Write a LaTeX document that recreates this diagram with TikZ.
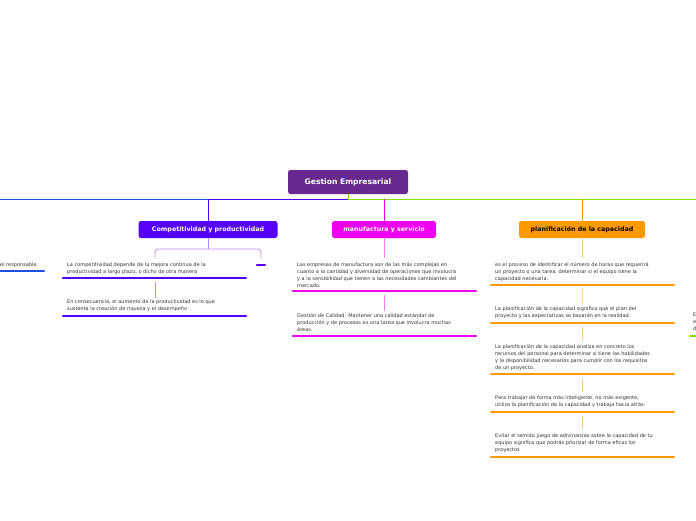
\documentclass[tikz,border=0pt]{standalone}
\usepackage{fontspec}
\setmainfont{DejaVu Sans}
\begin{document}
\begin{tikzpicture}[x=1pt,y=-1pt,
  txt/.style={anchor=north west,align=left,inner sep=0,font=\fontsize{5}{7}\selectfont,text=black!80},
  topic/.style={rounded corners=2.5pt,minimum height=17pt,font=\fontsize{6.3}{7}\selectfont\bfseries,text=white},
  ul/.style={line width=2.6pt,line cap=round},
  conn/.style={line width=0.8pt}]
\useasboundingbox (0,0) rectangle (696,520);
\definecolor{root}{HTML}{67298F}
\definecolor{vio}{HTML}{5500FF}
\definecolor{mag}{HTML}{EE00EE}
\definecolor{ora}{HTML}{FF9900}
\definecolor{grn}{HTML}{88E000}
\definecolor{blu}{HTML}{1E50E6}
% main line
\coordinate (L) at (0,199); \coordinate (R) at (696,199);
\coordinate (J) at (348,199);
\draw[conn,blu] (L) -- (208,199);
\draw[conn,vio] (208,199) -- (J);
\draw[conn,grn] (J) -- (R);
\node[topic,fill=root,minimum width=120pt,minimum height=24pt,font=\fontsize{7.6}{8}\selectfont\bfseries] (root) at (348,182) {Gestion Empresarial};
\draw[conn,grn] (root.south) -- (J);
% topics
\node[topic,fill=vio,minimum width=139pt] (c) at (208,229.5) {Competitividad y productividad};
\node[topic,fill=mag,minimum width=104pt] (m) at (384,229.5) {manufactura y servicio};
\node[topic,fill=ora,minimum width=126pt,text=black] (p) at (582,229.5) {planificación de la capacidad};
\draw[conn,vio,rounded corners=2pt] (208,199) -- (c.north);
\draw[conn,mag,rounded corners=2pt] (384,199) -- (m.north);
\draw[conn,ora,rounded corners=2pt] (582,199) -- (p.north);
% competitividad children
\draw[conn,vio!45] (c.south) -- (208,249);
\draw[conn,vio!45,rounded corners=3pt] (155,258) -- (155,249) -- (261,249) -- (261,258);
\node[txt] (c1) at (67,262) {La competitividad depende de la mejora continua de la\\productividad a largo plazo, o dicho de otra manera};
\draw[ul,vio] (63,278) -- (246,278);
\draw[conn,vio!45] (155,282) -- (155,298);
\node[txt] (c2) at (67,299.5) {En consecuencia, el aumento de la productividad es lo que\\sustenta la creación de riqueza y el desempeño};
\draw[ul,vio] (63,316) -- (246,316);
\draw[ul,vio] (257,265) -- (265,265);
% left partial
\node[txt] (lp) at (0,262) {el responsable};
\draw[ul,blu] (0,271) -- (44,271);
% manufactura children
\draw[conn,mag!50] (m.south) -- (384,258);
\node[txt] (m1) at (297,262) {Las empresas de manufactura son de las más complejas en\\cuanto a la cantidad y diversidad de operaciones que involucra\\y a la sensibilidad que tienen a las necesidades cambiantes del\\mercado.};
\draw[ul,mag] (293,291) -- (476,291);
\draw[conn,mag!50] (384,295) -- (384,311);
\node[txt] (m2) at (297,313) {Gestión de Calidad: Mantener una calidad estándar de\\producción y de procesos es una tarea que involucra muchas\\áreas.};
\draw[ul,mag] (293,336) -- (476,336);
% planificacion children
\draw[conn,ora!50] (p.south) -- (582,258);
\node[txt] (p1) at (495,262) {es el proceso de identificar el número de horas que requerirá\\un proyecto o una tarea, determinar si el equipo tiene la\\capacidad necesaria.};
\draw[ul,ora] (491,285) -- (674,285);
\draw[conn,ora!50] (582,289) -- (582,303);
\node[txt] (p2) at (495,306) {La planificación de la capacidad significa que el plan del\\proyecto y las expectativas se basarán en la realidad.};
\draw[ul,ora] (491,323) -- (674,323);
\draw[conn,ora!50] (582,327) -- (582,341);
\node[txt] (p3) at (495,344) {La planificación de la capacidad analiza en concreto los\\recursos del personal para determinar si tiene las habilidades\\y la disponibilidad necesarios para cumplir con los requisitos\\de un proyecto.};
\draw[ul,ora] (491,374) -- (674,374);
\draw[conn,ora!50] (582,378) -- (582,392);
\node[txt] (p4) at (495,395) {Para trabajar de forma más inteligente, no más exigente,\\utiliza la planificación de la capacidad y trabaja hacia atrás.};
\draw[ul,ora] (491,412) -- (674,412);
\draw[conn,ora!50] (582,416) -- (582,430);
\node[txt] (p5) at (495,433) {Evitar el temido juego de adivinanzas sobre la capacidad de tu\\equipo significa que podrás priorizar de forma eficaz los\\proyectos};
\draw[ul,ora] (491,457) -- (674,457);
% right partial
\node[txt] (rp) at (693,313) {E\\e\\d};
\draw[ul,grn] (690,336) -- (696,336);
\end{tikzpicture}
\end{document}
